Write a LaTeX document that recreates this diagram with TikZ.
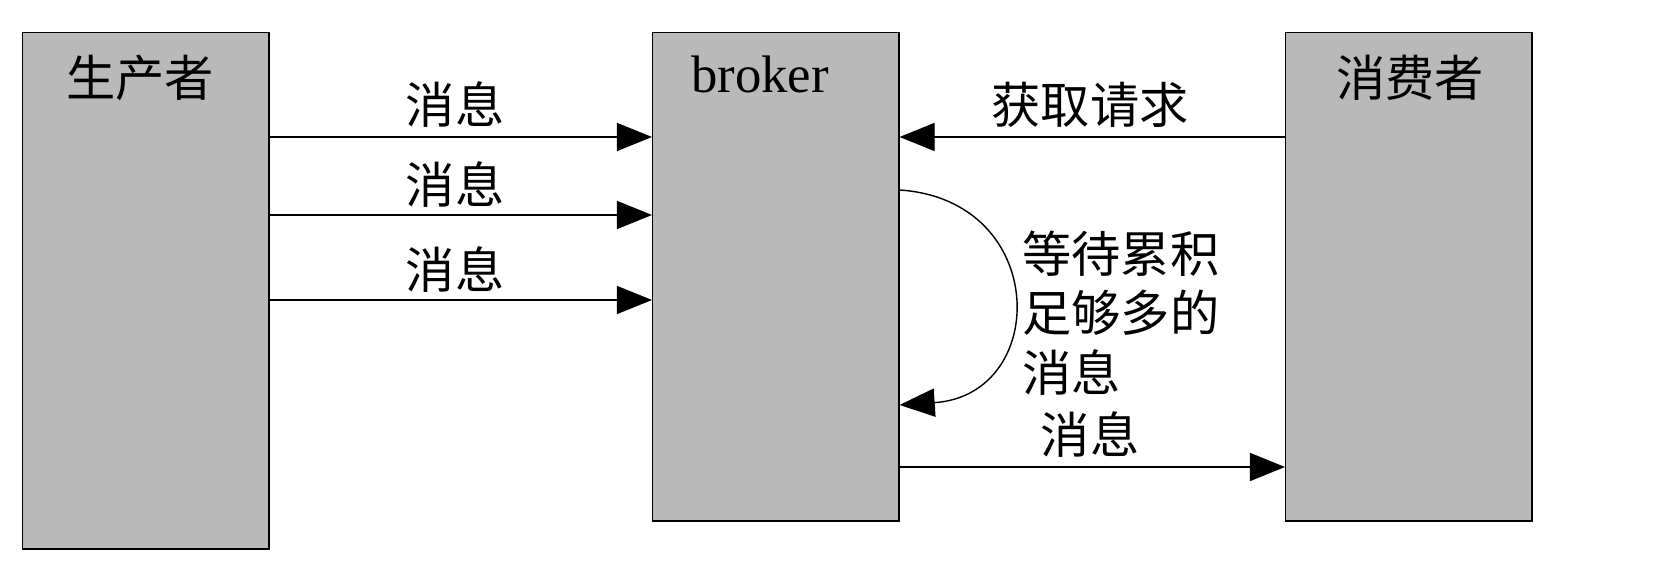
\documentclass[tikz,border=0pt]{standalone}
\usepackage{fontspec}
\setmainfont{Liberation Serif}
\newfontfamily\cjk{Noto Sans CJK SC}
\usetikzlibrary{arrows.meta}
\tikzset{>={Triangle[length=10pt,width=8pt]}, line width=1.6pt}
\tikzset{
  party/.style={draw, fill=gray!55, minimum width=2.46cm, anchor=north west, inner sep=0pt},
  tag/.style={font=\cjk\fontsize{14}{17}\selectfont},
}
\begin{document}
\begin{tikzpicture}[x=0.01cm,y=-0.01cm]
  \useasboundingbox (0,0) rectangle (1660,586);

  % the three boxes
  \node[party, minimum height=5.16cm] (prod) at (22,32) {};
  \node[party, minimum height=4.88cm] (brok) at (652,32) {};
  \node[party, minimum height=4.88cm] (cons) at (1285,32) {};
  \node[tag] at (140,78) {生产者};
  \node[font=\fontsize{15}{18}\selectfont] at (760,74) {broker};
  \node[tag] at (1410,78) {消费者};

  % messages in
  \foreach \y/\ly in {137/105, 215/185, 300/270} {
    \coordinate (a) at (prod.east |- 0,\y);
    \coordinate (b) at (brok.west |- 0,\y);
    \draw[->] (a) -- (b);
    \node[tag] at (455,\ly) {消息};
  }

  % fetch request
  \coordinate (c1) at (cons.west |- 0,137);
  \coordinate (c2) at (brok.east |- 0,137);
  \draw[->] (c1) -- (c2);
  \node[tag] at (1090,105) {获取请求};

  % waiting
  \coordinate (w1) at (brok.east |- 0,190);
  \coordinate (w2) at (brok.east |- 0,405);
  \draw[->] (w1) .. controls (1050,200) and (1050,395) .. (w2);
  \node[tag, align=left, anchor=north west] (wait) at (1010,218) {等待累积\\足够多的\\消息};

  % message out
  \coordinate (d1) at (brok.east |- 0,467);
  \coordinate (d2) at (cons.west |- 0,467);
  \draw[->] (d1) -- (d2);
  \node[tag] at (1090,435) {消息};
\end{tikzpicture}
\end{document}
